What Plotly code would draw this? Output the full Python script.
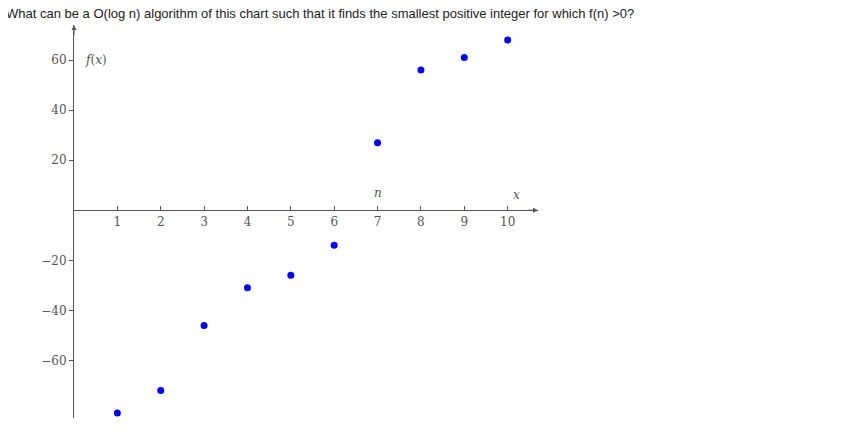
import plotly.graph_objects as go

n_values = [1, 2, 3, 4, 5, 6, 7, 8, 9, 10]
f_values = [-81, -72, -46, -31, -26, -14, 27, 56, 61, 68]
y_ticks = [-60, -40, -20, 20, 40, 60]
y_labels = ["\u221260", "\u221240", "\u221220", "20", "40", "60"]

ymin, ymax = -83, 74
fig = go.Figure(go.Scatter(x=n_values, y=f_values, mode="markers",
                           marker=dict(color="#0000ff", size=7)))
serif = dict(family="DejaVu Serif, serif", size=12, color="#555")
fig.update_layout(
    width=845, height=416, plot_bgcolor="white", paper_bgcolor="white",
    margin=dict(l=66, r=315, t=17, b=6), showlegend=False,
    xaxis=dict(range=[0, 10.7], tickvals=n_values, showgrid=False, zeroline=False,
               showline=True, linecolor="#555", linewidth=1, anchor="free",
               position=(0 - ymin) / (ymax - ymin), ticks="inside", ticklen=4,
               tickcolor="#555", tickfont=serif),
    yaxis=dict(range=[ymin, ymax], tickvals=y_ticks, ticktext=y_labels, showgrid=False,
               zeroline=False, showline=True, linecolor="#555", linewidth=1,
               ticks="outside", ticklen=4, tickcolor="#555", tickfont=serif),
    annotations=[
        dict(text="What can be a O(log n) algorithm of this chart such that it finds the smallest positive integer for which f(n) >0?",
             xref="paper", yref="paper", x=-69/456, y=1 + 11/393, xanchor="left", yanchor="middle",
             showarrow=False, font=dict(family="Arial, Liberation Sans", size=13, color="#222")),
        dict(text="<i>f</i>(<i>x</i>)", x=0.2, y=60, xanchor="left", showarrow=False, font=serif),
        dict(text="<i>n</i>", x=7, y=0, yshift=8, yanchor="bottom", showarrow=False, font=serif),
        dict(text="<i>x</i>", x=10.2, y=0, yshift=6, yanchor="bottom", showarrow=False, font=serif),
        dict(x=0, y=ymax, ax=0, ay=12, showarrow=True, arrowhead=2, arrowsize=1, arrowwidth=1,
             arrowcolor="#555", text=""),
        dict(x=10.7, y=0, ax=-12, ay=0, showarrow=True, arrowhead=2, arrowsize=1, arrowwidth=1,
             arrowcolor="#555", text=""),
    ],
)
fig.write_html("out.html")
